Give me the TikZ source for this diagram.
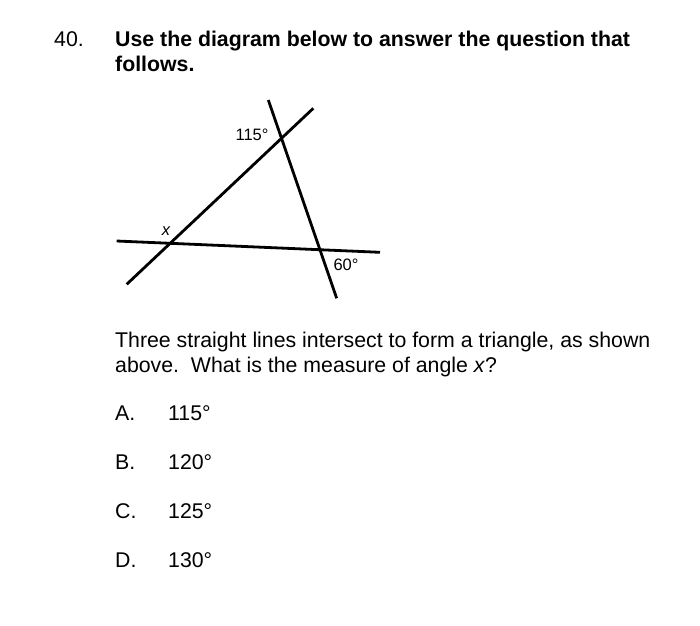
\documentclass[tikz,border=0pt]{standalone}
\usepackage{fontspec}
\setmainfont{Liberation Sans}
\usepackage{tikz}
\tikzstyle{bigline} = [line width=2.8pt, line cap=butt]
\tikzstyle{anglabel} = [font=\fontsize{16.5}{19}\selectfont, inner sep=0pt]
\tikzstyle{qtext} = [anchor=base west, inner sep=0pt, font=\fontsize{21.3}{25}\selectfont]
\tikzstyle{qbold} = [qtext, font=\fontsize{21.3}{25}\selectfont\bfseries]

\begin{document}
\begin{tikzpicture}[x=1pt, y=-1pt]
        \useasboundingbox (0,0) rectangle (700,625);
        % question header
        \node[qtext] (num) at (54,46) {40.};
        \node[qbold] (head1) at (115,46) {Use the diagram below to answer the question that};
        \node[qbold] (head2) at (115,71) {follows.};
        % the three lines
        \coordinate (diagA) at (126.7,284.3);
        \coordinate (diagB) at (313.3,108.3);
        \coordinate (steepA) at (268.3,100);
        \coordinate (steepB) at (336.7,298.3);
        \coordinate (horA) at (116.7,241);
        \coordinate (horB) at (380,252.3);
        \draw[bigline] (diagA) -- (diagB);
        \draw[bigline] (steepA) -- (steepB);
        \draw[bigline] (horA) -- (horB);
        \node[anglabel] (top) at (252,135) {115\textdegree};
        \node[anglabel] (angx) at (166,231) {\itshape x};
        \node[anglabel] (bot) at (346,265) {60\textdegree};
        % question text
        \node[qtext] (q1) at (115,347) {Three straight lines intersect to form a triangle, as shown};
        \node[qtext] (q2) at (115,372) {above.\ \ What is the measure of angle \textit{x}?};
        % choices
        \node[qtext] (optA) at (115,420) {A.};
        \node[qtext] (valA) at (168,420) {115\textdegree};
        \node[qtext] (optB) at (115,469) {B.};
        \node[qtext] (valB) at (168,469) {120\textdegree};
        \node[qtext] (optC) at (115,518) {C.};
        \node[qtext] (valC) at (168,518) {125\textdegree};
        \node[qtext] (optD) at (115,567) {D.};
        \node[qtext] (valD) at (168,567) {130\textdegree};
    \end{tikzpicture}
\end{document}
